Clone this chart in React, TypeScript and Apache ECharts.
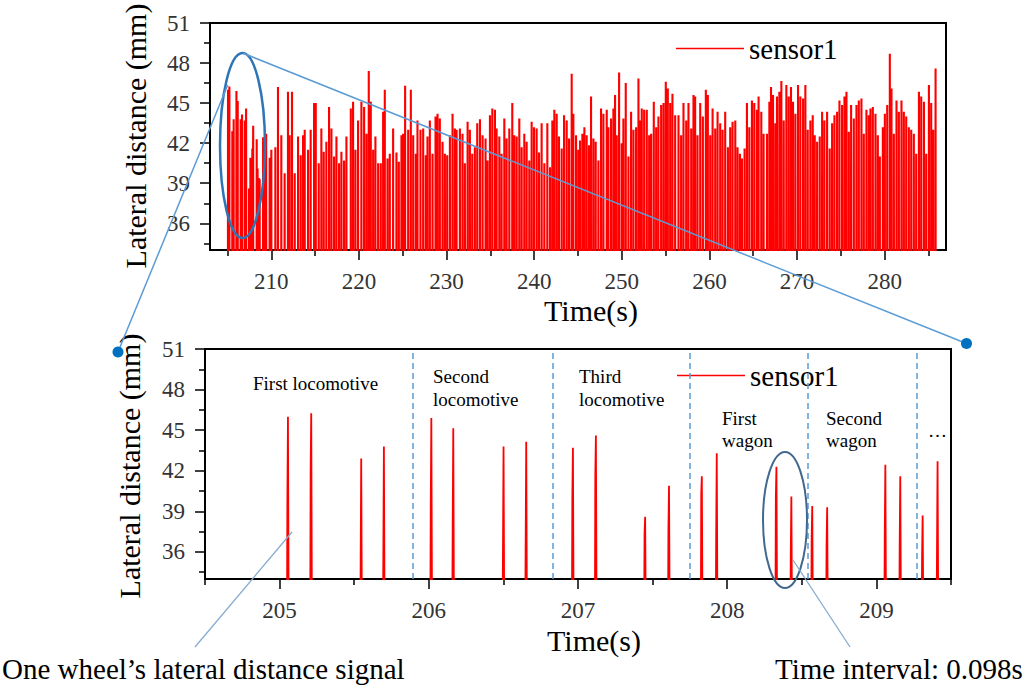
import React, { useEffect, useRef } from 'react';
import * as echarts from 'echarts';

const FONT = 'Liberation Serif';
const FLOOR = 30; // signal level between wheel passes (below the visible range)

// Zoomed panel: individual wheel pulses (time s, peak mm, first-sample mm)
const wheelTimes = [205.056, 205.212, 205.547, 205.699, 206.017, 206.164, 206.501, 206.653, 206.966, 207.12, 207.45, 207.61, 207.83, 207.93, 208.33, 208.43, 208.57, 208.67, 209.06, 209.16, 209.31, 209.41];
const wheelPeaks = [46.0, 46.25, 42.9, 43.8, 45.9, 45.15, 43.8, 44.15, 43.7, 44.6, 38.6, 40.9, 41.6, 43.3, 42.3, 40.1, 39.4, 39.3, 42.45, 41.6, 38.7, 42.7];
const wheelShoulders = [39.5, 41.95, 34.6, 35.2, 39.4, 37.8, 36.0, 36.4, 40.0, 41.6, 37.3, 37.6, 40.3, 37.0, 40.0, 35.8, 37.0, 36.5, 37.3, 36.5, 35.5, 35.9];

// Full record after 209.5 s: pulse times and peaks
const topTimes = [
  209.81, 210.0, 210.46, 210.76, 211.14, 211.52, 211.9, 212.09, 212.36, 212.67, 213.05, 213.35, 213.62, 213.81, 214.19, 214.49, 214.88, 215.07, 215.41, 215.71,
  215.98, 216.28, 216.59, 216.86, 217.16, 217.43, 217.73, 218.0, 218.3, 218.57, 219.07, 219.33, 219.6, 219.9, 220.28, 220.59, 220.86, 221.12, 221.35, 221.62,
  221.88, 222.19, 222.49, 222.76, 222.95, 223.26, 223.52, 223.9,
  224.28, 224.55, 224.85, 225.04, 225.27, 225.62, 225.92, 226.19, 226.49, 226.68, 227.02, 227.33, 227.63, 227.82, 228.09, 228.4, 228.74, 228.97, 229.23, 229.54,
  229.81, 230.07, 230.38, 230.68, 230.95, 231.14, 231.52, 231.82, 232.09, 232.4, 232.66, 232.93, 233.23, 233.5, 233.81, 234.11, 234.45, 234.68, 234.95, 235.22,
  235.52, 235.71, 236.02, 236.28, 236.59, 236.85, 237.16, 237.5, 237.73, 238.0, 238.3, 238.57, 238.87, 239.14, 239.44, 239.71, 239.98, 240.28, 240.55, 240.85,
  241.16, 241.5, 241.81, 242.07, 242.3, 242.57, 242.83, 243.14, 243.41, 243.71, 243.98, 244.28, 244.47, 244.78, 245.04,
  245.23, 245.5, 245.73, 245.99, 246.26, 246.49, 246.76, 247.02, 247.33, 247.63, 247.9, 248.28, 248.47, 248.77, 249.04, 249.23, 249.42, 249.69, 249.99, 250.18,
  250.45, 250.76, 251.06, 251.33, 251.63, 251.9, 252.09, 252.28, 252.55, 252.85, 253.12, 253.35, 253.65, 253.92, 254.18, 254.49, 254.76, 255.02, 255.25, 255.52,
  255.78, 256.09, 256.47, 256.77, 257.04, 257.35, 257.61, 257.92, 258.18, 258.37, 258.64, 258.95, 259.25, 259.59, 259.82, 260.09, 260.36, 260.66, 260.93, 261.23,
  261.5, 261.8, 262.11, 262.37, 262.64, 262.95, 263.21, 263.48, 263.71, 264.01, 264.28, 264.55, 264.85, 265.12, 265.42, 265.61, 265.92, 266.18,
  266.57, 266.84, 267.03, 267.26, 267.52, 267.71, 267.98, 268.21, 268.48, 268.78, 269.05, 269.31, 269.54, 269.81, 270.11, 270.38, 270.69, 270.95, 271.22, 271.52,
  271.79, 272.02, 272.29, 272.59, 272.86, 273.12, 273.43, 273.73, 274.0, 274.27, 274.57, 274.84, 275.14, 275.41, 275.64, 275.91, 276.17, 276.48, 276.78, 277.05,
  277.35, 277.62, 277.92, 278.19, 278.38, 278.65, 278.95, 279.22, 279.45, 279.79, 280.02, 280.29, 280.59, 280.78, 281.05, 281.35, 281.62, 281.92, 282.19, 282.46,
  282.76, 283.03, 283.33, 283.6, 283.91, 284.17, 284.48, 284.74, 285.05, 285.31, 285.54, 285.81,
];
const topPeaks = [
  40.9, 41.5, 41.7, 46.2, 42.6, 39.75, 45.85, 42.6, 45.85, 39.75, 42.5, 41.1, 42.6, 43.0, 41.5, 43.0, 45.0, 45.0, 40.5, 43.1,
  41.35, 42.1, 44.7, 43.1, 41.0, 42.5, 40.5, 41.35, 40.7, 42.5, 44.6, 45.1, 41.5, 43.7, 45.1, 44.7, 42.7, 47.4, 45.1, 41.5,
  42.5, 40.5, 40.5, 44.35, 46.0, 40.85, 41.2, 43.1,
  41.3, 40.6, 42.6, 42.7, 46.3, 43.0, 46.0, 42.6, 41.2, 43.7, 43.0, 43.1, 41.1, 42.5, 43.7, 41.2, 44.0, 44.2, 43.85, 42.1,
  41.2, 41.1, 42.6, 44.2, 43.1, 43.0, 43.1, 42.7, 40.5, 43.6, 43.0, 41.2, 41.7, 43.5, 43.8, 42.6, 42.35, 40.7, 44.1, 44.6,
  44.5, 43.1, 42.5, 41.2, 43.85, 42.35, 43.1, 45.0, 42.6, 42.5, 43.85, 41.7, 42.7, 42.1, 40.7, 43.6, 43.2, 43.1, 41.3, 43.5,
  40.5, 43.5, 40.2, 43.7, 44.5, 44.2, 42.5, 41.6, 44.1, 43.7, 42.35, 47.2, 44.2, 42.6, 41.5,
  42.2, 42.7, 43.2, 42.6, 41.85, 45.5, 42.35, 42.1, 40.7, 44.6, 44.2, 44.5, 43.2, 43.85, 44.6, 45.6, 42.6, 47.3, 42.0, 43.85,
  46.5, 41.0, 44.35, 43.0, 43.2, 46.85, 43.7, 44.6, 44.5, 44.5, 42.6, 42.7, 45.1, 43.2, 44.0, 44.85, 45.0, 46.6, 46.1, 45.0,
  45.7, 44.1, 44.1, 42.6, 45.0, 43.7, 45.0, 43.1, 45.6, 45.5, 42.6, 45.0, 44.0, 46.0, 45.6, 42.6, 44.6, 43.1, 44.35, 43.5,
  43.0, 44.35, 41.7, 43.2, 43.6, 43.7, 41.7, 41.2, 40.85, 41.6, 45.0, 43.2, 45.2, 45.0, 44.5, 45.5, 44.35, 42.7,
  42.7, 45.1, 46.2, 45.6, 43.5, 45.5, 45.85, 46.65, 43.7, 46.35, 45.5, 46.2, 45.1, 44.2, 46.35, 45.5, 45.35, 46.35, 43.0, 43.7,
  44.1, 42.6, 42.1, 42.5, 44.35, 43.7, 44.35, 41.6, 43.5, 44.1, 44.35, 45.2, 44.85, 45.5, 45.85, 42.85, 44.85, 43.85, 44.85, 45.2,
  45.35, 42.7, 44.5, 44.1, 44.6, 44.7, 44.2, 42.6, 41.0, 43.2, 44.2, 44.85, 48.7, 46.1, 42.7, 45.2, 44.35, 45.2, 44.35, 44.0,
  43.2, 43.0, 42.7, 41.2, 45.85, 45.5, 45.1, 41.2, 46.35, 45.0, 43.0, 47.6,
];

// Vehicle boundaries in the zoomed panel (s)
const boundaries = [205.887, 206.834, 207.753, 208.544, 209.27];

// Tick values
const topXLabels = [210, 220, 230, 240, 250, 260, 270, 280];
const topXMinor = [205, 215, 225, 235, 245, 255, 265, 275, 285];
const yLabels = [36, 39, 42, 45, 48, 51];
const yMinor = [34.5, 37.5, 40.5, 43.5, 46.5, 49.5];
const botXLabels = [205, 206, 207, 208, 209];
const botXMinor = [204.5, 205.5, 206.5, 207.5, 208.5, 209.5];

function buildOption() {
  // zoomed panel pulses: floor -> first sample -> peak -> floor
  const botData: number[][] = [];
  wheelTimes.forEach((t, i) => {
    botData.push([t - 0.007, FLOOR], [t - 0.004, wheelShoulders[i]], [t, wheelPeaks[i]], [t + 0.005, FLOOR]);
  });
  const topData: number[][] = [];
  wheelTimes.forEach((t, i) => {
    topData.push([t - 0.01, FLOOR], [t, wheelPeaks[i]], [t + 0.01, FLOOR]);
  });
  topTimes.forEach((t, i) => {
    topData.push([t - 0.01, FLOOR], [t, topPeaks[i]], [t + 0.01, FLOOR]);
  });

  const tickStyle = { color: '#000', width: 1.5 };
  const labelStyle = { fontSize: 23, fontFamily: FONT, color: '#333' };
  const mainX = (grid: number, min: number, max: number, labels: number[]) => ({
    type: 'value', gridIndex: grid, min, max, position: 'bottom',
    axisLine: { show: true, onZero: false, lineStyle: { color: '#000', width: 2 } },
    axisTick: { show: true, length: 10, lineStyle: tickStyle, customValues: labels },
    axisLabel: { ...labelStyle, margin: 20, customValues: labels },
    splitLine: { show: false },
  });
  const minorX = (grid: number, min: number, max: number, ticks: number[]) => ({
    type: 'value', gridIndex: grid, min, max, position: 'bottom',
    axisLine: { show: false, onZero: false },
    axisTick: { show: true, length: 6, lineStyle: tickStyle, customValues: ticks },
    axisLabel: { show: false },
    splitLine: { show: false },
  });
  const mainY = (grid: number) => ({
    type: 'value', gridIndex: grid, min: 34, max: 51, position: 'left',
    axisLine: { show: true, onZero: false, lineStyle: { color: '#000', width: 2 } },
    axisTick: { show: true, length: 10, lineStyle: tickStyle, customValues: yLabels },
    axisLabel: { ...labelStyle, margin: 20, customValues: yLabels },
    splitLine: { show: false },
  });
  const minorY = (grid: number) => ({
    type: 'value', gridIndex: grid, min: 34, max: 51, position: 'left',
    axisLine: { show: false, onZero: false },
    axisTick: { show: true, length: 6, lineStyle: tickStyle, customValues: yMinor },
    axisLabel: { show: false },
    splitLine: { show: false },
  });

  const txt = (text: string, x: number, y: number, size: number, align = 'left', rot = 0) => ({
    type: 'text', x, y, rotation: rot, z: 100,
    style: { text, fill: '#000', font: `${size}px "${FONT}"`, align, verticalAlign: 'middle' },
  });
  const seg = (x1: number, y1: number, x2: number, y2: number, color: string, w: number) => ({
    type: 'line', z: 100, shape: { x1, y1, x2, y2 }, style: { stroke: color, lineWidth: w },
  });

  const legendBase = {
    data: ['sensor1'], icon: 'rect', itemWidth: 68, itemHeight: 1.5, padding: 0, selectedMode: false,
    textStyle: { fontSize: 29, fontFamily: FONT, color: '#000' }, orient: 'horizontal',
  };

  return {
    animation: false,
    backgroundColor: '#fff',
    grid: [
      { left: 210, top: 23, width: 736, height: 227, show: true, borderColor: '#000', borderWidth: 2, backgroundColor: 'transparent' },
      { left: 205, top: 349, width: 746, height: 230, show: true, borderColor: '#000', borderWidth: 2, backgroundColor: 'transparent' },
    ],
    xAxis: [
      mainX(0, 203, 287, topXLabels),
      minorX(0, 203, 287, topXMinor),
      mainX(1, 204.5, 209.5, botXLabels),
      minorX(1, 204.5, 209.5, botXMinor),
    ],
    yAxis: [mainY(0), minorY(0), mainY(1), minorY(1)],
    legend: [
      { ...legendBase, left: 676, top: 34 },
      { ...legendBase, left: 677, top: 361 },
    ],
    series: [
      {
        type: 'line', name: 'sensor1', xAxisIndex: 0, yAxisIndex: 0, data: topData,
        symbol: 'none', showSymbol: false, clip: true,
        lineStyle: { color: '#ff0000', width: 2.1, join: 'bevel' }, itemStyle: { color: '#ff0000' },
      },
      {
        type: 'line', name: 'sensor1', xAxisIndex: 2, yAxisIndex: 2, data: botData,
        symbol: 'none', showSymbol: false, clip: true,
        lineStyle: { color: '#ff0000', width: 1.8, join: 'bevel' }, itemStyle: { color: '#ff0000' },
        markLine: {
          silent: true, symbol: 'none', label: { show: false },
          lineStyle: { color: '#5b9bd5', width: 1.5, type: [6, 4] },
          data: boundaries.map((b) => ({ xAxis: b })),
        },
      },
    ],
    graphic: [
      // axis titles
      txt('Lateral distance (mm)', 135, 136, 30, 'center', Math.PI / 2),
      txt('Lateral distance (mm)', 129, 466, 30, 'center', Math.PI / 2),
      txt('Time(s)', 591, 310, 30, 'center'),
      txt('Time(s)', 594, 640, 30, 'center'),
      // zoom annotation
      { type: 'ellipse', z: 100, shape: { cx: 242.5, cy: 145.5, rx: 22.5, ry: 92.5 }, style: { fill: 'none', stroke: '#2e75b6', lineWidth: 2.5 } },
      seg(118, 352, 227.7, 85, '#5b9bd5', 1.5),
      seg(243.3, 53.3, 966.5, 343.5, '#5b9bd5', 1.5),
      { type: 'circle', z: 101, shape: { cx: 118, cy: 352, r: 5.5 }, style: { fill: '#0070c0' } },
      { type: 'circle', z: 101, shape: { cx: 966.5, cy: 343.5, r: 5.5 }, style: { fill: '#0070c0' } },
      // vehicle labels
      txt('First locomotive', 253, 383, 19),
      txt('Second', 433, 376, 19), txt('locomotive', 433, 399, 19),
      txt('Third', 579, 376, 19), txt('locomotive', 579, 399, 19),
      txt('First', 722, 418, 19), txt('wagon', 722, 440, 19),
      txt('Second', 826, 418, 19), txt('wagon', 826, 440, 19),
      txt('…', 928, 430, 19),
      // time interval ellipse & leaders
      { type: 'ellipse', z: 100, shape: { cx: 785, cy: 520, rx: 22, ry: 68 }, style: { fill: 'none', stroke: '#41698f', lineWidth: 2 } },
      seg(292, 532, 195, 647, '#86aad0', 1.3),
      seg(793, 560, 850, 647, '#86aad0', 1.3),
      txt('One wheel’s lateral distance signal', 2, 669, 29),
      txt('Time interval: 0.098s', 775, 669, 29),
    ],
  };
}

export default function App() {
  const ref = useRef<HTMLDivElement>(null);
  useEffect(() => {
    if (!ref.current) return;
    const chart = echarts.init(ref.current, null, { renderer: 'svg' });
    chart.setOption(buildOption() as any);
    return () => chart.dispose();
  }, []);
  return (
    <div
      ref={ref}
      style={{ position: 'absolute', left: 0, top: 0, width: 1025, height: 688, background: '#fff' }}
    />
  );
}
